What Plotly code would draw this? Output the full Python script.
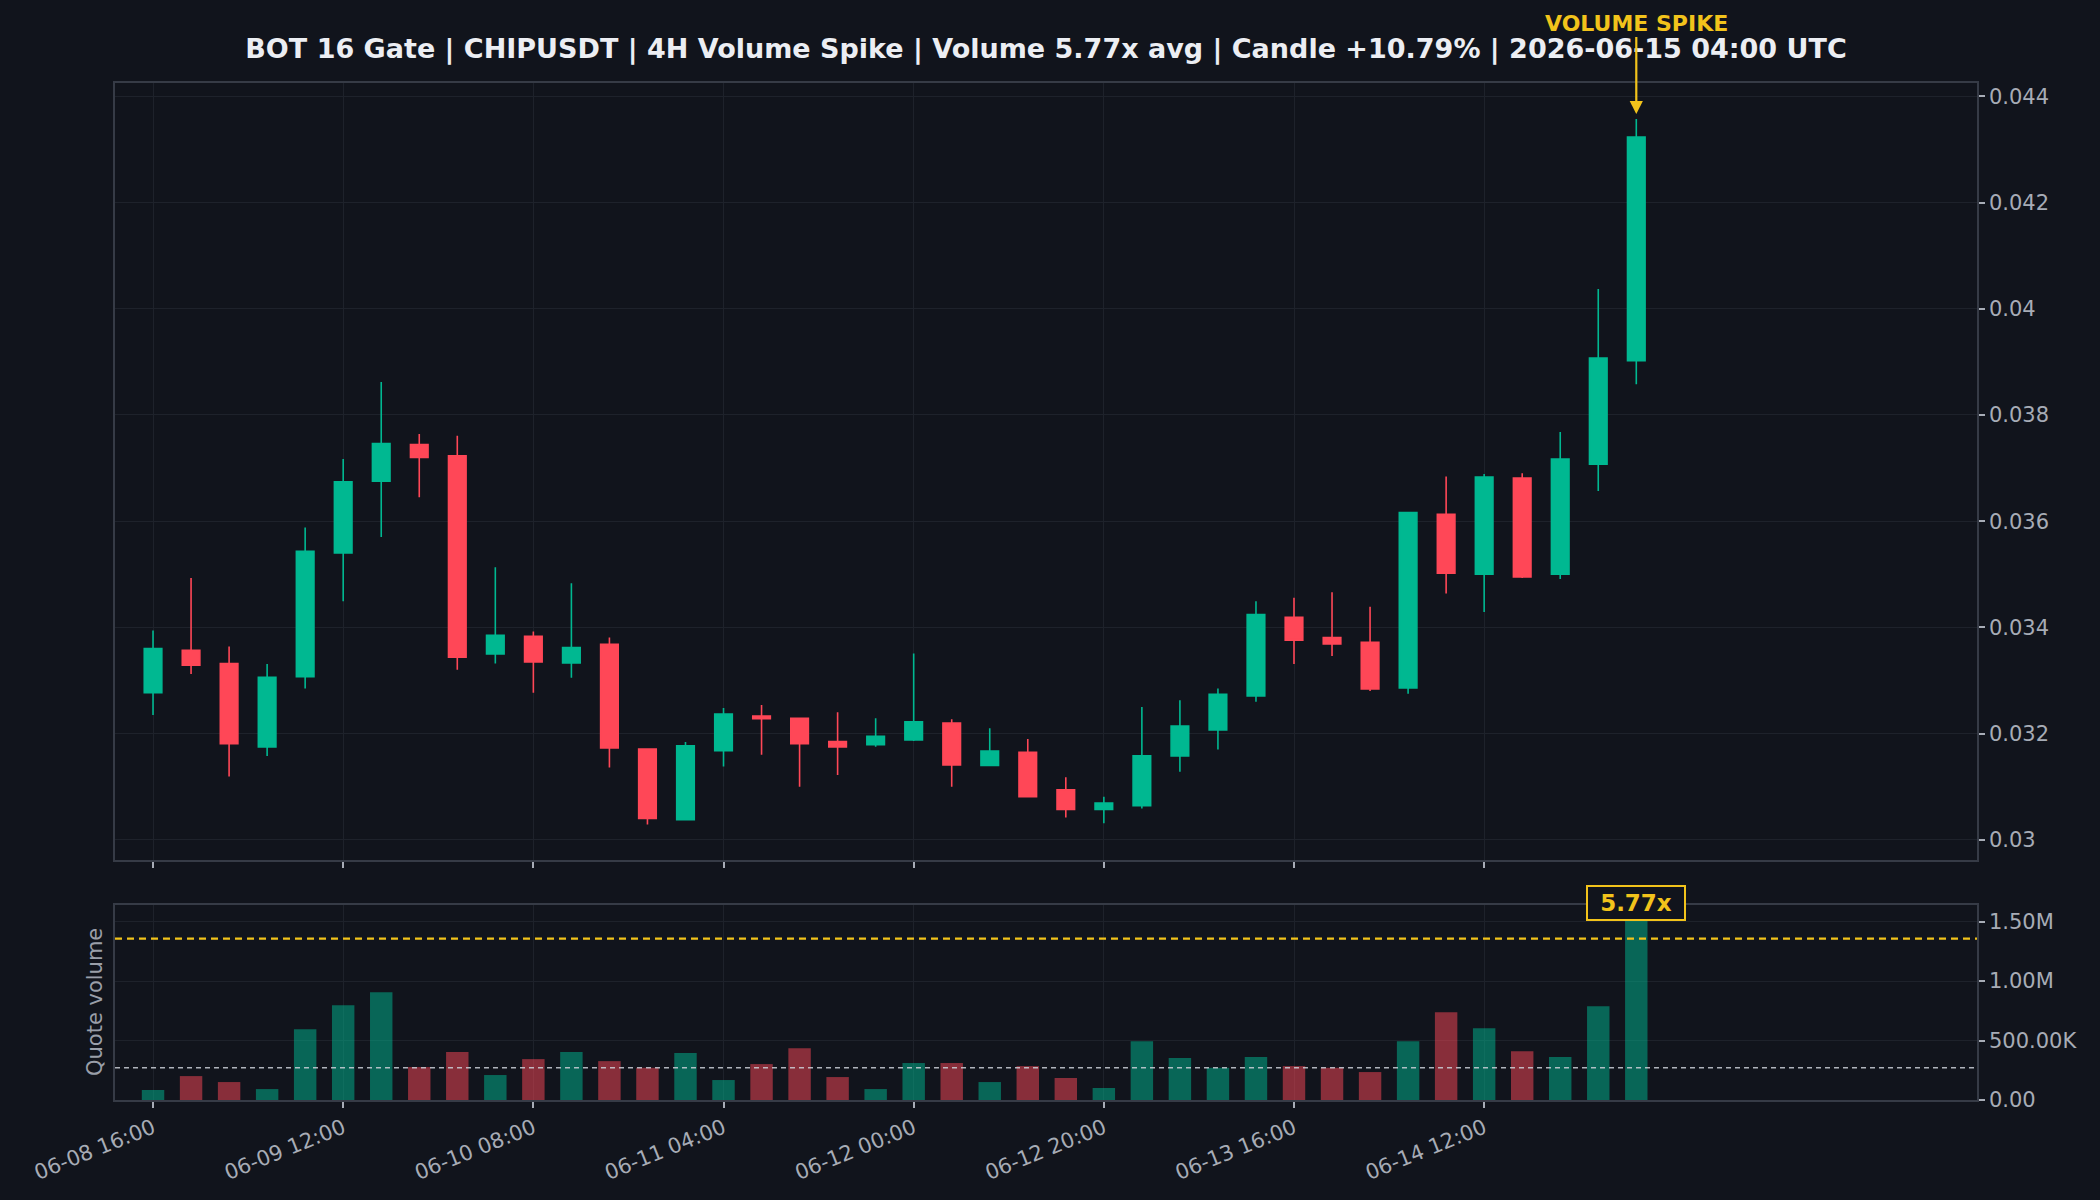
import pandas as pd
import plotly.graph_objects as go

# ---------------- data ----------------
times = pd.date_range("2026-06-08 16:00", periods=40, freq="4h")

opens = [0.03277, 0.03357, 0.03332, 0.03175, 0.03307, 0.03540, 0.03675, 0.03744, 0.03723, 0.03350,
         0.03383, 0.03333, 0.03368, 0.03171, 0.03038, 0.03168, 0.03233, 0.03229, 0.03185, 0.03179,
         0.03188, 0.03220, 0.03140, 0.03165, 0.03094, 0.03057, 0.03064, 0.03158, 0.03207, 0.03271,
         0.03419, 0.03381, 0.03372, 0.03286, 0.03613, 0.03500, 0.03681, 0.03500, 0.03707, 0.03902]
highs = [0.03394, 0.03493, 0.03364, 0.03331, 0.03588, 0.03717, 0.03862, 0.03764, 0.03761, 0.03513,
         0.03392, 0.03483, 0.03381, 0.03172, 0.03184, 0.03248, 0.03254, 0.03230, 0.03240, 0.03229,
         0.03351, 0.03227, 0.03210, 0.03190, 0.03118, 0.03081, 0.03250, 0.03263, 0.03285, 0.03449,
         0.03456, 0.03466, 0.03439, 0.03617, 0.03684, 0.03689, 0.03690, 0.03768, 0.04037, 0.04357]
lows = [0.03235, 0.03312, 0.03119, 0.03158, 0.03285, 0.03449, 0.03570, 0.03645, 0.03320, 0.03332,
        0.03277, 0.03305, 0.03136, 0.03029, 0.03037, 0.03138, 0.03160, 0.03100, 0.03122, 0.03175,
        0.03186, 0.03100, 0.03140, 0.03081, 0.03042, 0.03031, 0.03059, 0.03128, 0.03170, 0.03260,
        0.03331, 0.03346, 0.03280, 0.03275, 0.03464, 0.03429, 0.03493, 0.03491, 0.03657, 0.03858]
closes = [0.03360, 0.03329, 0.03181, 0.03306, 0.03543, 0.03674, 0.03746, 0.03720, 0.03344, 0.03385,
          0.03335, 0.03362, 0.03173, 0.03040, 0.03177, 0.03237, 0.03228, 0.03181, 0.03175, 0.03195,
          0.03222, 0.03141, 0.03167, 0.03081, 0.03057, 0.03069, 0.03158, 0.03214, 0.03274, 0.03424,
          0.03376, 0.03369, 0.03284, 0.03616, 0.03502, 0.03683, 0.03495, 0.03717, 0.03907, 0.04323]
volumes = [84e3, 201e3, 151e3, 92e3, 596e3, 797e3, 907e3, 277e3, 403e3, 210e3,
           344e3, 403e3, 327e3, 271e3, 395e3, 168e3, 302e3, 436e3, 193e3, 92e3,
           311e3, 311e3, 151e3, 285e3, 185e3, 101e3, 495e3, 353e3, 271e3, 361e3,
           285e3, 271e3, 235e3, 495e3, 739e3, 604e3, 411e3, 361e3, 789e3, 1564e3]

avg_volume = 271e3
spike_threshold = 1357e3
spike_ratio_label = "5.77x"

tick_labels = ["06-08 16:00", "06-09 12:00", "06-10 08:00", "06-11 04:00",
               "06-12 00:00", "06-12 20:00", "06-13 16:00", "06-14 12:00"]
tick_vals = [pd.Timestamp("2026-" + t) for t in tick_labels]

vol_tick_vals = [0, 500e3, 1000e3, 1500e3]
vol_tick_text = ["0.00", "500.00K", "1.00M", "1.50M"]

title_text = ("BOT 16 Gate | CHIPUSDT | 4H Volume Spike | Volume 5.77x avg | "
              "Candle +10.79% | 2026-06-15 04:00 UTC")

# ---------------- styles ----------------
BG = "#11141c"
GRID = "#1e222b"
FRAME = "#363b46"
TICK = "#a7acb6"
GREEN = "#00b891"
RED = "#ff4757"
GREEN_V = "rgba(0,184,145,0.5)"
RED_V = "rgba(255,71,87,0.5)"
YELLOW = "#f2c31b"
FONT = "DejaVu Sans"

bar_colors = [GREEN_V if c >= o else RED_V for o, c in zip(opens, closes)]

fig = go.Figure()

fig.add_trace(go.Candlestick(
    x=times, open=opens, high=highs, low=lows, close=closes,
    increasing=dict(line=dict(color=GREEN, width=1.6), fillcolor=GREEN),
    decreasing=dict(line=dict(color=RED, width=1.6), fillcolor=RED),
    xaxis="x", yaxis="y", showlegend=False, name="",
))

fig.add_trace(go.Bar(
    x=times, y=volumes, marker=dict(color=bar_colors, line=dict(width=0)),
    xaxis="x2", yaxis="y2", showlegend=False, name="",
))

x_range = [pd.Timestamp("2026-06-08 12:00"), pd.Timestamp("2026-06-16 15:50")]

axis_common = dict(
    showgrid=True, gridcolor=GRID, gridwidth=1,
    showline=True, linecolor=FRAME, linewidth=1.5, mirror=True,
    zeroline=False,
    ticks="outside", ticklen=6, tickwidth=1.5, tickcolor=TICK,
    tickfont=dict(family=FONT, size=21, color=TICK),
)

fig.update_layout(
    width=2100, height=1200,
    paper_bgcolor=BG, plot_bgcolor=BG,
    margin=dict(l=115, r=123, t=83, b=100),
    font=dict(family=FONT, color=TICK),
    boxgap=0.34,
    bargap=0.41,
    title=dict(text="<b>" + title_text + "</b>", x=0.5, xref="paper",
               y=1 - 49 / 1200, yref="container", yanchor="middle",
               font=dict(family=FONT, size=27, color="#eceef3")),
    xaxis=dict(axis_common, type="date", range=x_range, anchor="y", domain=[0, 1],
               tickvals=tick_vals, showticklabels=False,
               rangeslider=dict(visible=False)),
    xaxis2=dict(axis_common, type="date", range=x_range, anchor="y2", domain=[0, 1],
                matches="x", tickvals=tick_vals, ticktext=tick_labels,
                tickangle=-22),
    yaxis=dict(axis_common, domain=[0.236, 1.0], side="right", anchor="x",
               range=[0.02962, 0.04425], tick0=0.03, dtick=0.002),
    yaxis2=dict(axis_common, domain=[0.0, 0.1917], side="right", anchor="x2",
                range=[0, 1.64e6], tickvals=vol_tick_vals, ticktext=vol_tick_text),
    hovermode=False,
)

# average and threshold lines
fig.add_shape(type="line", xref="x2 domain", yref="y2", x0=0, x1=1,
              y0=spike_threshold, y1=spike_threshold,
              line=dict(color=YELLOW, width=2.2, dash="7px,5px"), layer="above")
fig.add_shape(type="line", xref="x2 domain", yref="y2", x0=0, x1=1,
              y0=avg_volume, y1=avg_volume,
              line=dict(color="rgba(205,208,216,0.85)", width=1.6, dash="5px,4px"), layer="above")

# VOLUME SPIKE arrow annotation
fig.add_annotation(
    x=times[-1], y=highs[-1], xref="x", yref="y",
    text="<b>VOLUME SPIKE</b>", showarrow=True,
    arrowhead=2, arrowsize=1.2, arrowwidth=2.2, arrowcolor=YELLOW,
    ax=0, ay=-96, standoff=5,
    font=dict(family=FONT, size=22, color=YELLOW),
)

# ratio badge
fig.add_annotation(
    x=times[-1], y=volumes[-1], xref="x2", yref="y2",
    text="<b>" + spike_ratio_label + "</b>", showarrow=False,
    yanchor="middle", yshift=11,
    bgcolor=BG, bordercolor=YELLOW, borderwidth=2, borderpad=3,
    width=90, height=26,
    font=dict(family=FONT, size=23, color=YELLOW),
)

# y-axis title for volume (left side)
fig.add_annotation(
    x=-0.0107, y=0.0964, xref="paper", yref="paper",
    text="Quote volume", showarrow=False, textangle=-90,
    xanchor="center", yanchor="middle",
    font=dict(family=FONT, size=21, color="#9a9fa9"),
)

fig.write_html("out.html")
